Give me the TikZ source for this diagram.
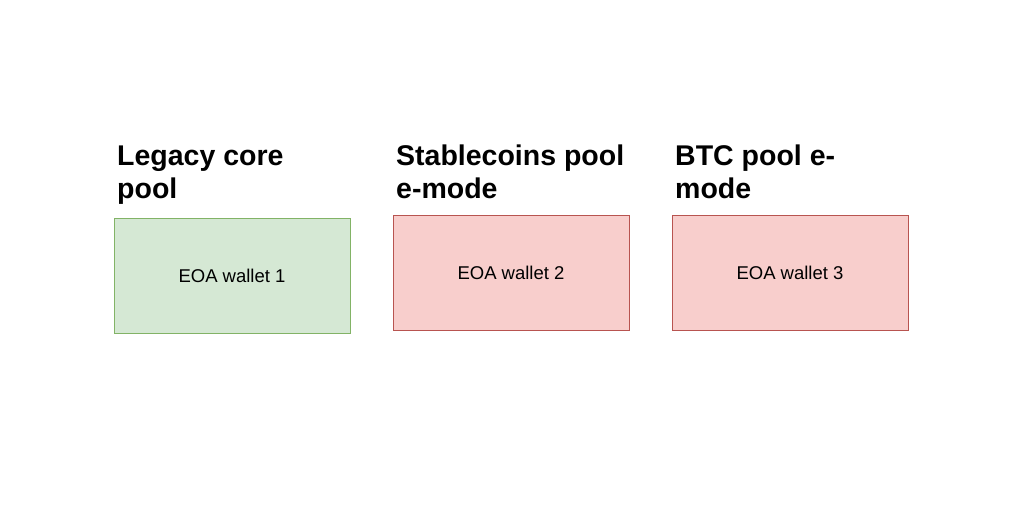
\documentclass[tikz,border=0pt]{standalone}
\usepackage{fontspec}
\setmainfont{Liberation Sans}
\definecolor{okfill}{HTML}{D5E8D4}
\definecolor{okline}{HTML}{82B366}
\definecolor{badfill}{HTML}{F8CECC}
\definecolor{badline}{HTML}{B85450}
\begin{document}
\begin{tikzpicture}[x=1pt, y=-1pt,
    wallet/.style={draw, line width=1pt, minimum width=236pt, minimum height=115pt, inner sep=0pt, font=\fontsize{18.5}{22}\selectfont},
    okwallet/.style={wallet, draw=okline, fill=okfill},
    badwallet/.style={wallet, draw=badline, fill=badfill},
    pooltitle/.style={anchor=base west, align=left, inner sep=0pt, font=\bfseries\fontsize{28.5}{33}\selectfont}]
  \useasboundingbox (0,0) rectangle (1024,516);
  % pools
  \node[pooltitle] (pool1) at (117,198) {Legacy core\\pool};
  \node[pooltitle] (pool2) at (396,198) {Stablecoins pool\\e-mode};
  \node[pooltitle] (pool3) at (675,198) {BTC pool e-\\mode};
  % wallets
  \node[okwallet]  (wallet1) at (232,275.5) {EOA wallet 1};
  \node[badwallet] (wallet2) at (511,272.5) {EOA wallet 2};
  \node[badwallet] (wallet3) at (790,272.5) {EOA wallet 3};
\end{tikzpicture}
\end{document}
